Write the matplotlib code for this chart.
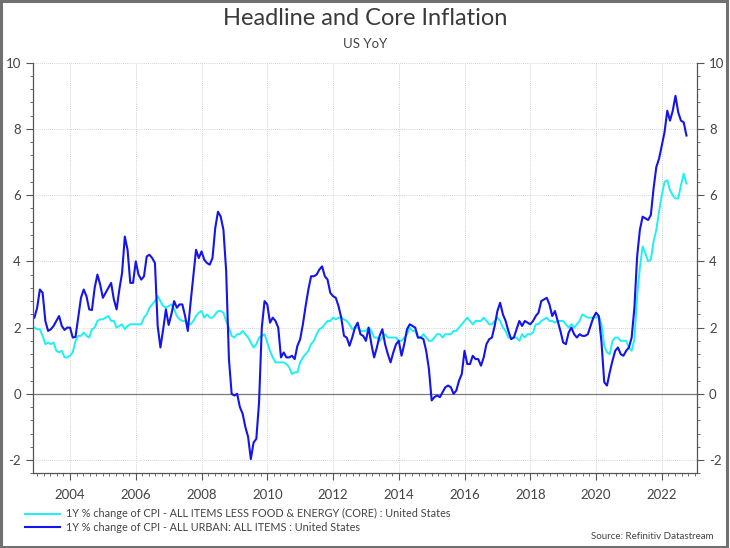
import numpy as np
import pandas as pd
import matplotlib
matplotlib.use("Agg")
import matplotlib.pyplot as plt
from matplotlib.ticker import MultipleLocator
from matplotlib.patches import Rectangle

plt.rcParams['font.family'] = ['Lato', 'DejaVu Sans']

# Monthly YoY % change, Dec 2002 .. Oct 2022
start_month = "2002-12"

headline = [
    2.3,
    2.6, 3.15, 3.05, 2.2, 1.9, 1.95, 2.05, 2.2, 2.35, 2.05, 1.93, 2.0,   # 2003
    2.0, 1.7, 1.72, 2.3, 2.9, 3.15, 2.95, 2.55, 2.53, 3.2, 3.6, 3.3,     # 2004
    2.9, 3.05, 3.2, 3.35, 2.85, 2.55, 3.15, 3.65, 4.75, 4.35, 3.35, 3.35,  # 2005
    4.0, 3.6, 3.45, 3.55, 4.15, 4.2, 4.1, 3.95, 2.05, 1.4, 1.95, 2.55,   # 2006
    2.08, 2.4, 2.8, 2.6, 2.7, 2.7, 2.35, 1.9, 2.75, 3.55, 4.35, 4.1,     # 2007
    4.3, 4.05, 3.95, 3.9, 4.1, 5.0, 5.5, 5.35, 4.95, 3.7, 1.05, 0.0,     # 2008
    -0.05, 0.0, -0.4, -0.6, -1.0, -1.3, -1.97, -1.47, -1.36, -0.26, 2.0, 2.8,  # 2009
    2.7, 2.15, 2.3, 2.2, 2.0, 1.1, 1.25, 1.1, 1.1, 1.15, 1.05, 1.45,     # 2010
    1.65, 2.1, 2.65, 3.15, 3.55, 3.55, 3.6, 3.75, 3.85, 3.55, 3.45, 3.05,  # 2011
    2.95, 2.9, 2.65, 2.3, 1.75, 1.7, 1.45, 1.7, 2.0, 2.15, 1.8, 1.75,    # 2012
    1.6, 2.0, 1.5, 1.1, 1.4, 1.75, 1.95, 1.5, 1.2, 0.95, 1.25, 1.5,      # 2013
    1.6, 1.15, 1.5, 1.95, 2.1, 2.05, 2.0, 1.7, 1.7, 1.65, 1.3, 0.75,     # 2014
    -0.2, -0.1, -0.05, -0.1, 0.05, 0.2, 0.25, 0.2, 0.0, 0.1, 0.4, 0.6,   # 2015
    1.3, 0.9, 0.9, 1.15, 1.05, 1.05, 0.85, 1.1, 1.5, 1.65, 1.7, 2.05,    # 2016
    2.5, 2.75, 2.4, 2.2, 1.9, 1.65, 1.7, 1.95, 2.2, 2.05, 2.2, 2.15,     # 2017
    2.1, 2.2, 2.35, 2.45, 2.8, 2.85, 2.9, 2.7, 2.35, 2.5, 2.2, 1.9,      # 2018
    1.55, 1.5, 1.85, 2.0, 1.8, 1.7, 1.8, 1.75, 1.75, 1.8, 2.05, 2.3,     # 2019
    2.45, 2.35, 1.55, 0.35, 0.25, 0.65, 1.0, 1.3, 1.4, 1.2, 1.15, 1.3,   # 2020
    1.4, 1.7, 2.6, 4.15, 4.95, 5.35, 5.3, 5.25, 5.4, 6.2, 6.85, 7.1,     # 2021
    7.5, 7.9, 8.55, 8.25, 8.55, 9.0, 8.5, 8.25, 8.2, 7.8,                # 2022
]

core = [
    2.0,
    1.95, 1.95, 1.75, 1.5, 1.55, 1.5, 1.55, 1.3, 1.25, 1.3, 1.1, 1.1,    # 2003
    1.15, 1.25, 1.6, 1.75, 1.75, 1.85, 1.75, 1.7, 1.95, 2.0, 2.2, 2.25,  # 2004
    2.25, 2.3, 2.35, 2.2, 2.2, 2.0, 2.05, 2.1, 1.95, 2.05, 2.1, 2.1,     # 2005
    2.1, 2.1, 2.1, 2.3, 2.4, 2.6, 2.7, 2.8, 2.95, 2.8, 2.65, 2.6,        # 2006
    2.65, 2.7, 2.55, 2.35, 2.25, 2.2, 2.2, 2.1, 2.1, 2.2, 2.35, 2.45,    # 2007
    2.5, 2.3, 2.4, 2.3, 2.3, 2.4, 2.5, 2.5, 2.45, 2.2, 2.0, 1.75,        # 2008
    1.7, 1.8, 1.8, 1.9, 1.8, 1.7, 1.55, 1.4, 1.5, 1.7, 1.75, 1.8,        # 2009
    1.55, 1.3, 1.1, 0.95, 0.95, 0.95, 0.95, 0.9, 0.8, 0.6, 0.65, 0.65,   # 2010
    0.95, 1.1, 1.2, 1.3, 1.5, 1.6, 1.8, 1.95, 2.0, 2.1, 2.2, 2.2,        # 2011
    2.3, 2.25, 2.3, 2.3, 2.25, 2.2, 2.1, 1.95, 2.0, 2.0, 1.9, 1.9,       # 2012
    1.9, 2.0, 1.9, 1.7, 1.7, 1.6, 1.7, 1.8, 1.7, 1.7, 1.7, 1.7,          # 2013
    1.6, 1.6, 1.7, 1.8, 2.0, 1.9, 1.9, 1.7, 1.7, 1.8, 1.7, 1.6,          # 2014
    1.6, 1.7, 1.8, 1.8, 1.7, 1.8, 1.8, 1.8, 1.9, 1.9, 2.0, 2.1,          # 2015
    2.2, 2.3, 2.2, 2.1, 2.2, 2.2, 2.2, 2.3, 2.2, 2.1, 2.1, 2.2,          # 2016
    2.3, 2.2, 2.0, 1.9, 1.7, 1.7, 1.7, 1.7, 1.6, 1.8, 1.7, 1.8,          # 2017
    1.8, 1.85, 2.1, 2.1, 2.2, 2.25, 2.3, 2.2, 2.2, 2.15, 2.2, 2.2,       # 2018
    2.2, 2.1, 2.0, 2.1, 2.0, 2.1, 2.2, 2.4, 2.35, 2.3, 2.3, 2.3,         # 2019
    2.3, 2.35, 2.1, 1.45, 1.25, 1.2, 1.6, 1.7, 1.7, 1.6, 1.6, 1.6,       # 2020
    1.4, 1.3, 1.65, 2.95, 3.8, 4.45, 4.25, 4.0, 4.05, 4.6, 4.95, 5.5,    # 2021
    6.0, 6.4, 6.45, 6.15, 6.0, 5.9, 5.9, 6.3, 6.65, 6.35,                # 2022
]

core_label = "1Y % change of CPI - ALL ITEMS LESS FOOD & ENERGY (CORE) : United States"
headline_label = "1Y % change of CPI - ALL URBAN: ALL ITEMS : United States"

dates = pd.date_range(start_month, periods=len(headline), freq="MS")
x = dates.year + (dates.month - 1) / 12.0

fig = plt.figure(figsize=(7.3, 5.48), dpi=100)
ax = fig.add_axes([0.0448, 0.1363, 0.9104, 0.7493])

ax.plot(x, core, color="#1ef0f4", lw=1.4, label=core_label)
ax.plot(x, headline, color="#1414ec", lw=1.5, label=headline_label)
ax.axhline(0, color="#7a7a7a", lw=0.9, zorder=1)

ax.set_xlim(2002.865, 2023.08)
ax.set_ylim(-2.4, 10)
ax.xaxis.set_major_locator(MultipleLocator(2))
ax.xaxis.set_minor_locator(MultipleLocator(0.2))
ax.yaxis.set_major_locator(MultipleLocator(2))
ax.yaxis.set_minor_locator(MultipleLocator(0.4))
ax.xaxis.set_major_formatter(plt.FuncFormatter(lambda v, p: f"{int(round(v))}"))
ax.yaxis.set_major_formatter(plt.FuncFormatter(lambda v, p: f"{int(round(v))}"))

ax.grid(True, which="major", linestyle=(0, (1, 1.5)), color="#c4c4c4", lw=0.6)
ax.set_axisbelow(True)

for s in ["left", "right", "bottom"]:
    ax.spines[s].set_color("#555555")
    ax.spines[s].set_linewidth(0.9)
ax.spines["top"].set_visible(False)

ax.tick_params(axis="both", which="major", length=5, width=0.8, color="#555555",
               labelsize=9.5, labelcolor="#444444")
ax.tick_params(axis="both", which="minor", length=2.5, width=0.6, color="#555555")
ax.tick_params(axis="y", which="both", right=True, labelright=True)
ax.tick_params(axis="x", which="major", pad=6)

fig.text(0.5, 0.967, "Headline and Core Inflation", ha="center", va="center",
         fontsize=17, color="#3a3a3a")
fig.text(0.5, 0.92, "US YoY", ha="center", va="center", fontsize=9.5, color="#444444")

ax.legend(loc="upper left", bbox_to_anchor=(-0.018, -0.075), frameon=False,
          fontsize=7.8, handlelength=3.2, handletextpad=0.6, labelspacing=0.25,
          borderaxespad=0, labelcolor="#444444")

fig.text(0.978, 0.013, "Source: Refinitiv Datastream", ha="right", va="bottom",
         fontsize=7, color="#444444")

fig.patches.append(Rectangle((0.002, 0.002), 0.994, 0.996, transform=fig.transFigure,
                             fill=False, edgecolor="#707070", lw=2.2))

fig.savefig("out.png", dpi=100)
